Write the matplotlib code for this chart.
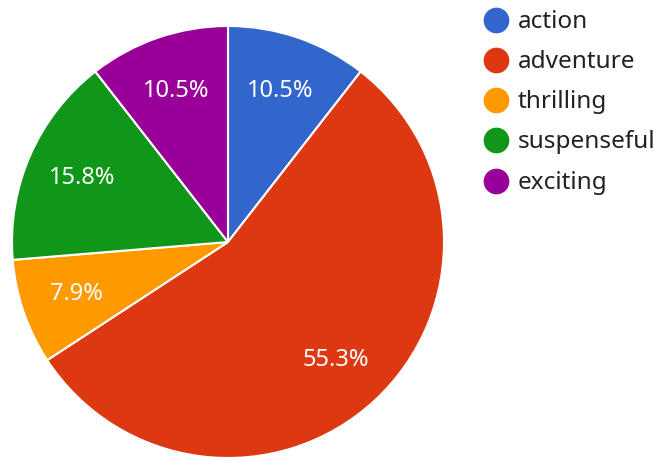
import matplotlib
matplotlib.use("Agg")
import matplotlib.pyplot as plt
from matplotlib.lines import Line2D

categories = ["action", "adventure", "thrilling", "suspenseful", "exciting"]
values = [4, 21, 3, 6, 4]
colors = ["#3366cc", "#dc3912", "#ff9900", "#109618", "#990099"]

plt.rcParams['font.family'] = ['Noto Sans', 'DejaVu Sans']

W, H = 658, 457
fig = plt.figure(figsize=(W/100, H/100), dpi=100)
cx, cy, r = 228, 242, 216
ax = fig.add_axes([(cx-r)/W, (H-cy-r)/H, 2*r/W, 2*r/H])
ax.pie(values, colors=colors, startangle=90, counterclock=False,
       autopct='%1.1f%%', pctdistance=0.74,
       wedgeprops=dict(edgecolor='white', linewidth=1.5),
       textprops=dict(color='white', fontsize=17))
ax.set_xlim(-1, 1)
ax.set_ylim(-1, 1)
ax.set_aspect('equal')
ax.axis('off')

ys = [20, 60, 100, 140, 181]
for lab, col, y in zip(categories, colors, ys):
    fig.add_artist(Line2D([496/W], [1 - y/H], marker='o', markersize=17.5,
                          color=col, linestyle='none', transform=fig.transFigure))
    fig.text(518/W, 1 - (y + 2)/H, lab, va='center', ha='left', fontsize=17.5, color='#222222')

fig.savefig("out.png", dpi=100)
